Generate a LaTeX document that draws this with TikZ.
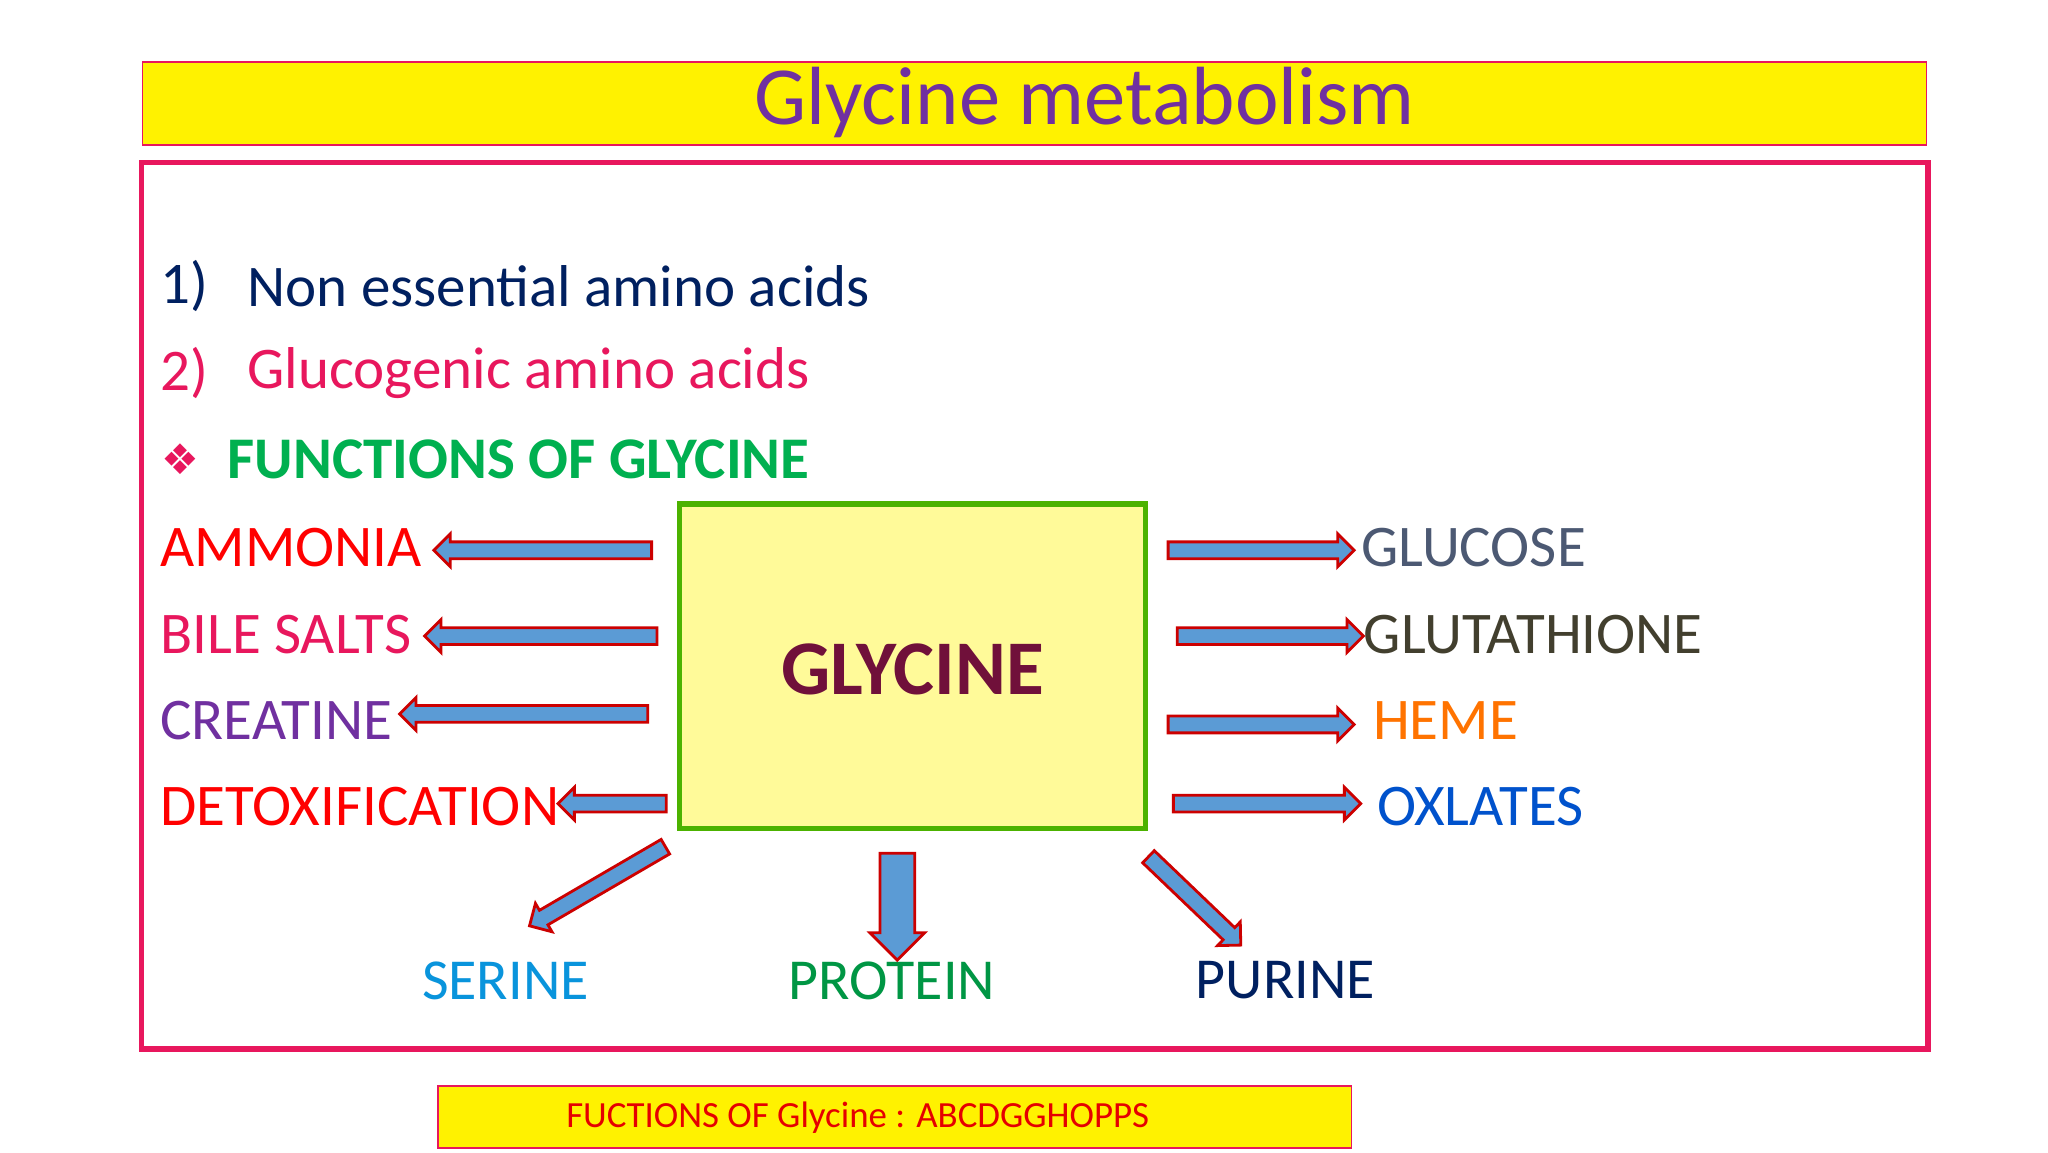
\documentclass[tikz,border=0pt]{standalone}
\usepackage{fontspec}
\setmainfont{Carlito}
\newfontfamily\symfont{DejaVu Sans}
\usetikzlibrary{shapes.arrows,calc}
\definecolor{boxred}{HTML}{E8175D}
\definecolor{arrowblue}{HTML}{5B9BD5}
\definecolor{navy}{HTML}{002060}
\definecolor{grape}{HTML}{7030A0}
\definecolor{leaf}{HTML}{00B050}
\definecolor{maroon}{HTML}{70103A}
\tikzset{fat/.style = {single arrow, draw=red!80!black, fill=arrowblue, thick, inner xsep=0pt, inner ysep=0.07cm, minimum width=0pt, single arrow head extend=0.08cm, single arrow head indent=0pt},
         wide/.style = {fat, inner ysep=0.16cm, single arrow head extend=0.1cm},
         lbl/.style = {anchor=west, inner sep=0pt, font=\fontsize{16.8}{18}\selectfont},
         bottom/.style = {inner sep=0pt, font=\fontsize{16.5}{18}\selectfont}}
\newcommand{\fatarrow}[3][fat]{%
  \path let \p1=($(#3)-(#2)$), \n1={veclen(\x1,\y1)}, \n2={atan2(\y1,\x1)} in
    node[#1, minimum height=\n1, rotate=\n2] at ($(#2)!0.5!(#3)$) {};}
\begin{document}
\begin{tikzpicture}[x=0.0132cm, y=-0.0132cm]
    \useasboundingbox[fill=white](0,0) rectangle (1552,873);
    % title and frame
    \node[draw=boxred, fill=yellow, minimum width=1352*0.0132cm, minimum height=63*0.0132cm, inner sep=0pt](titlebox)at(784,78.5){};
    \node[text=grape, font=\fontsize{23.5}{26}\selectfont](title)at(822,78){Glycine metabolism};
    \draw[boxred, line width=1.5pt](107,123) rectangle (1461,795);
    % headings
    \node[lbl, text=navy](n1)at(121,217){1)};
    \node[lbl, text=navy](t1)at(187,217){Non essential amino acids};
    \node[lbl, text=boxred](n2)at(121,283){2)};
    \node[lbl, text=boxred](t2)at(187,283){Glucogenic amino acids};
    \node[lbl, text=boxred](bul)at(122,348){\symfont\fontsize{12}{14}\selectfont ❖};
    \node[lbl, text=leaf, font=\fontsize{16.8}{18}\selectfont\bfseries](t3)at(172,348){FUNCTIONS OF GLYCINE};
    % centre box
    \node[draw=green!50!black!60!lime, fill=yellow!40, line width=1.5pt, minimum width=353*0.0132cm, minimum height=246*0.0132cm](gly)at(691.5,505){};
    \node[text=maroon, font=\fontsize{22}{24}\selectfont\bfseries]at(691.5,507){GLYCINE};
    % left
    \node[lbl, text=red](amm)at(121,415){AMMONIA};
    \node[lbl, text=boxred](bile)at(121,481){BILE SALTS};
    \node[lbl, text=grape](crea)at(121,546){CREATINE};
    \node[lbl, text=red](detox)at(121,611){DETOXIFICATION};
    \coordinate(a1)at(497,417); \coordinate(b1)at(332,417);
    \coordinate(a2)at(501,482); \coordinate(b2)at(325,482);
    \coordinate(a3)at(494,541); \coordinate(b3)at(306,541);
    \coordinate(a4)at(508,609); \coordinate(b4)at(426,609);
    \foreach \i in {1,...,4} {\fatarrow{a\i}{b\i}}
    % right
    \node[lbl, text=gray!60!navy](gluc)at(1031,415){GLUCOSE};
    \node[lbl, text=black!70!olive](glut)at(1033,481){GLUTATHIONE};
    \node[lbl, text=orange!90!red](heme)at(1040,546){HEME};
    \node[lbl, text=blue!60!cyan!80!black](oxl)at(1043,611){OXLATES};
    \coordinate(c1)at(882,417); \coordinate(d1)at(1023,417);
    \coordinate(c2)at(889,482); \coordinate(d2)at(1030,482);
    \coordinate(c3)at(882,549); \coordinate(d3)at(1023,549);
    \coordinate(c4)at(886,609); \coordinate(d4)at(1028,609);
    \foreach \i in {1,...,4} {\fatarrow{c\i}{d\i}}
    % bottom
    \node[bottom, text=cyan!80!blue](ser)at(383,743){SERINE};
    \node[bottom, text=leaf!85!black](prot)at(676,743){PROTEIN};
    \node[bottom, text=navy](pur)at(974,743){PURINE};
    \coordinate(e1)at(507,640); \coordinate(f1)at(404,700);
    \coordinate(e2)at(680,640); \coordinate(f2)at(680,721);
    \coordinate(e3)at(868,647); \coordinate(f3)at(938,714);
    \fatarrow{e1}{f1}
    \fatarrow[wide]{e2}{f2}
    \fatarrow{e3}{f3}
    % footer
    \node[draw=boxred, fill=yellow, minimum width=692*0.0132cm, minimum height=47*0.0132cm, inner sep=0pt](foot)at(678,846.5){};
    \node[text=red!90!black, font=\fontsize{10.5}{12}\selectfont](foottext)at(650,847){FUCTIONS OF Glycine : ABCDGGHOPPS};
\end{tikzpicture}
\end{document}
